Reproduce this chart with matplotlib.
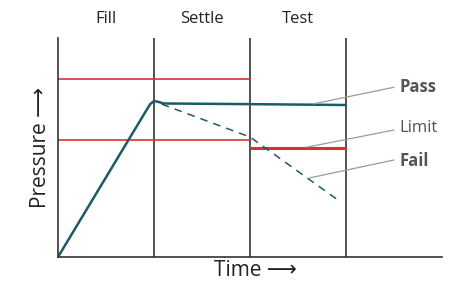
import matplotlib
matplotlib.use('Agg')
import matplotlib.pyplot as plt

plt.rcParams['font.family'] = ['Open Sans', 'DejaVu Sans']

# phases
PHASES = ['Fill', 'Settle', 'Test']
PHASE_EDGES = [1, 2, 3]

# pressure traces (time in phase units, pressure in % of plot height)
pass_t = [0, 0.90, 0.96, 1.00, 1.04, 1.10, 2.0, 3.0]
pass_p = [0, 65.5, 69.8, 71.2, 70.9, 70.1, 69.8, 69.4]
fail_t = [1.08, 2.0, 2.93]
fail_p = [69.8, 54.8, 25.6]

# limits
upper_limit = 81.3
lower_limit = 53.4
test_limit = 49.8

TEAL = '#1d5a68'
RED = '#d8322e'
DARK = '#333333'
GREY = '#9a9a9a'
LABEL = '#555555'

fig = plt.figure(figsize=(4.74, 2.89), dpi=100)
ax = fig.add_axes([58 / 474, 32 / 289, 384 / 474, 219 / 289])
ax.set_xlim(0, 4.0)
ax.set_ylim(0, 100)

for s in ['top', 'right']:
    ax.spines[s].set_visible(False)
for s in ['left', 'bottom']:
    ax.spines[s].set_color(DARK)
    ax.spines[s].set_linewidth(1.2)
ax.set_xticks([])
ax.set_yticks([])

for x in PHASE_EDGES:
    ax.axvline(x, color=DARK, lw=1.2)

ax.hlines([upper_limit, lower_limit], 0, 2, color=RED, lw=1.2)
ax.hlines(test_limit, 2, 3, color=RED, lw=2.2)

ax.plot(pass_t, pass_p, color=TEAL, lw=1.8, solid_capstyle='round')
ax.plot(fail_t, fail_p, color=TEAL, lw=1.1, dashes=(5, 4))

for i, name in enumerate(PHASES):
    ax.text(i + 0.5, 108.5, name, ha='center', va='center', fontsize=12,
            color='#222222', clip_on=False)

# callouts: label, weight, line start, line end, text y
callouts = [('Pass', 'bold', (2.66, 69.9), (3.5, 77.5), 77.8),
            ('Limit', 'normal', (2.60, 50.2), (3.5, 58.0), 58.9),
            ('Fail', 'bold', (2.62, 36.1), (3.5, 44.3), 44.0)]
for txt, w, xy, xytext, ty in callouts:
    ax.annotate('', xy=xy, xytext=xytext,
                arrowprops=dict(arrowstyle='-', color=GREY, lw=0.9,
                                shrinkA=0, shrinkB=0), annotation_clip=False)
    ax.text(3.56, ty, txt, fontsize=12,
            fontweight=w, color=LABEL, ha='left', va='center', clip_on=False)

fig.text(255 / 474, 1 - 271 / 289, 'Time \u27f6', ha='center', va='center',
         fontsize=15, color='#222222')
fig.text(40 / 474, 1 - 148 / 289, 'Pressure \u27f6', ha='center', va='center',
         fontsize=15, color='#222222', rotation=90)

fig.savefig('out.png', dpi=100)
